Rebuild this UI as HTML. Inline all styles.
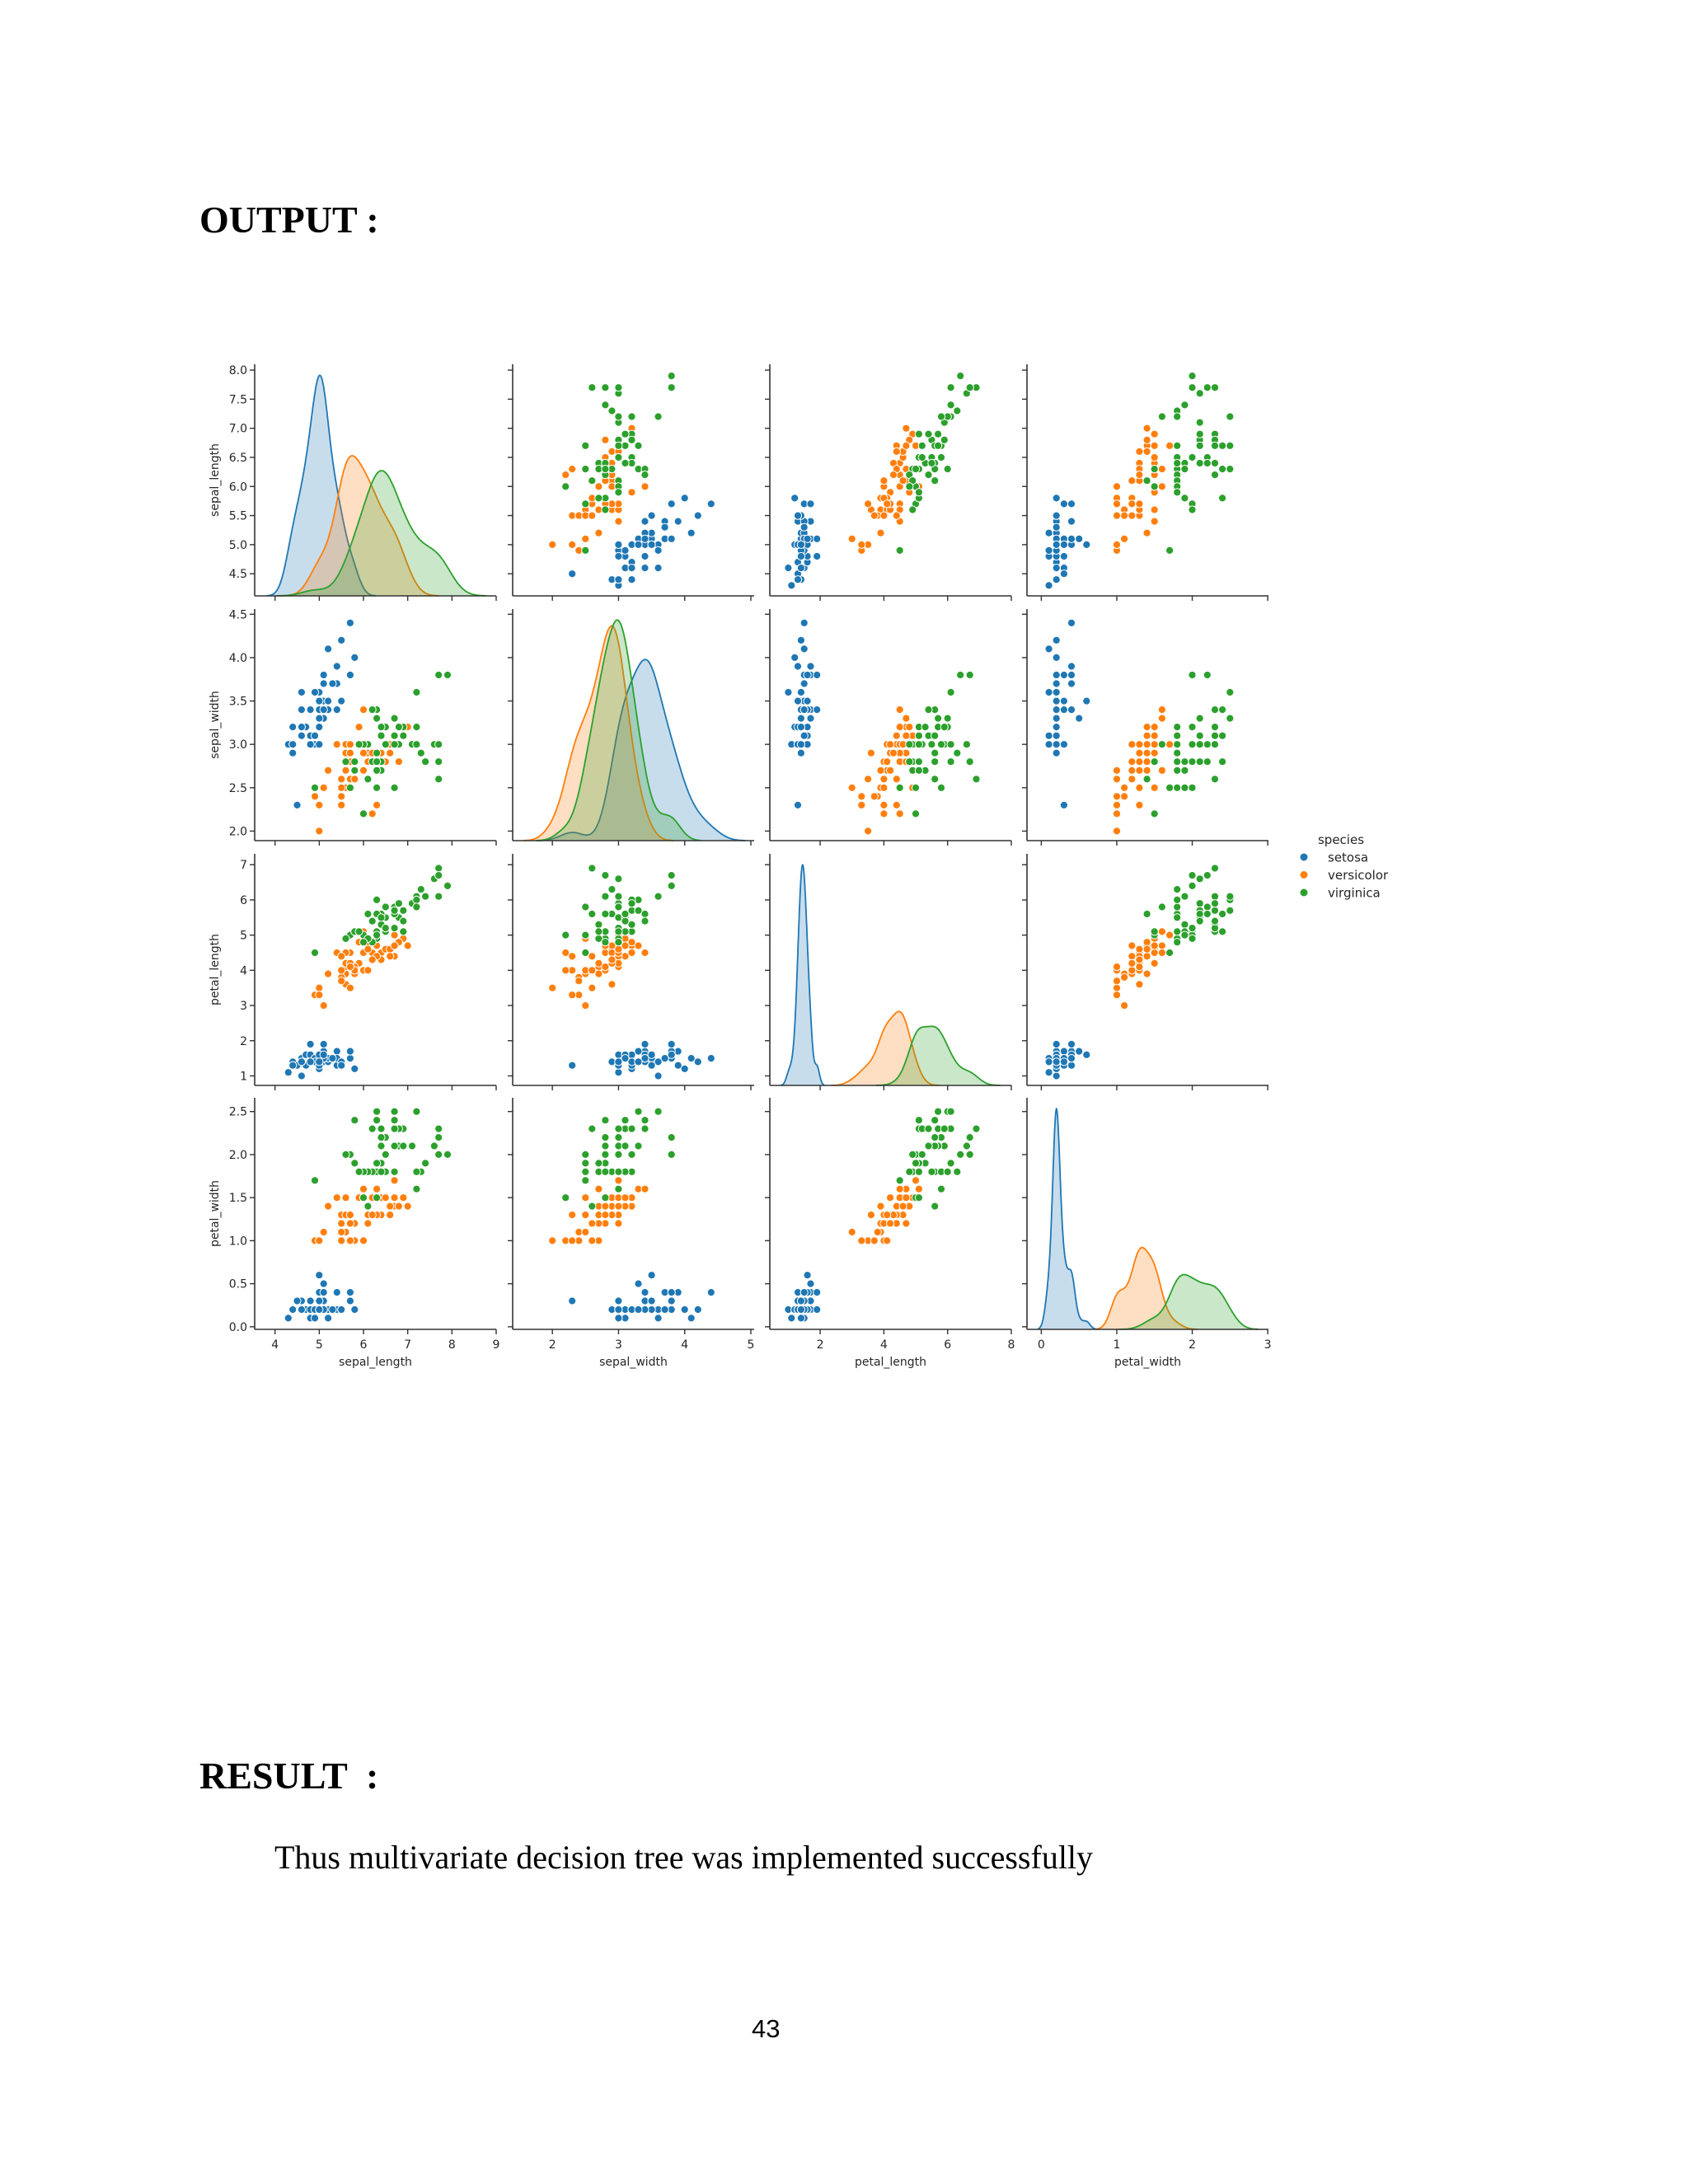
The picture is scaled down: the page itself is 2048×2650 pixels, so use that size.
<!DOCTYPE html>
<html><head><meta charset="utf-8">
<style>
html,body{margin:0;padding:0;background:#fff;}
body{width:2048px;height:2650px;position:relative;overflow:hidden;}
.h{position:absolute;font-family:"Liberation Serif",serif;font-weight:bold;font-size:46px;color:#000;white-space:pre;}
.p{position:absolute;font-family:"Liberation Serif",serif;font-size:40px;color:#000;white-space:pre;}
svg text{font-family:"DejaVu Sans","Liberation Sans",sans-serif;fill:#262626;}
</style></head>
<body>
<div class="h" style="left:242px;top:240px;">OUTPUT :</div>
<svg id="chart" width="2048" height="2650" style="position:absolute;left:0;top:0;"></svg>
<div class="h" style="left:242px;top:2128px;">RESULT  :</div>
<div class="p" style="left:333px;top:2230px;">Thus multivariate decision tree was implemented successfully</div>
<div class="p" style="left:912px;top:2444px;font-family:'Liberation Sans',sans-serif;font-size:31px;">43</div>
<script>
const setosaRows="5.1,3.5,1.4,0.2;4.9,3.0,1.4,0.2;4.7,3.2,1.3,0.2;4.6,3.1,1.5,0.2;5.0,3.6,1.4,0.2;5.4,3.9,1.7,0.4;4.6,3.4,1.4,0.3;5.0,3.4,1.5,0.2;4.4,2.9,1.4,0.2;4.9,3.1,1.5,0.1;5.4,3.7,1.5,0.2;4.8,3.4,1.6,0.2;4.8,3.0,1.4,0.1;4.3,3.0,1.1,0.1;5.8,4.0,1.2,0.2;5.7,4.4,1.5,0.4;5.4,3.9,1.3,0.4;5.1,3.5,1.4,0.3;5.7,3.8,1.7,0.3;5.1,3.8,1.5,0.3;5.4,3.4,1.7,0.2;5.1,3.7,1.5,0.4;4.6,3.6,1.0,0.2;5.1,3.3,1.7,0.5;4.8,3.4,1.9,0.2;5.0,3.0,1.6,0.2;5.0,3.4,1.6,0.4;5.2,3.5,1.5,0.2;5.2,3.4,1.4,0.2;4.7,3.2,1.6,0.2;4.8,3.1,1.6,0.2;5.4,3.4,1.5,0.4;5.2,4.1,1.5,0.1;5.5,4.2,1.4,0.2;4.9,3.1,1.5,0.2;5.0,3.2,1.2,0.2;5.5,3.5,1.3,0.2;4.9,3.6,1.4,0.1;4.4,3.0,1.3,0.2;5.1,3.4,1.5,0.2;5.0,3.5,1.3,0.3;4.5,2.3,1.3,0.3;4.4,3.2,1.3,0.2;5.0,3.5,1.6,0.6;5.1,3.8,1.9,0.4;4.8,3.0,1.4,0.3;5.1,3.8,1.6,0.2;4.6,3.2,1.4,0.2;5.3,3.7,1.5,0.2;5.0,3.3,1.4,0.2";
const versicolorRows="7.0,3.2,4.7,1.4;6.4,3.2,4.5,1.5;6.9,3.1,4.9,1.5;5.5,2.3,4.0,1.3;6.5,2.8,4.6,1.5;5.7,2.8,4.5,1.3;6.3,3.3,4.7,1.6;4.9,2.4,3.3,1.0;6.6,2.9,4.6,1.3;5.2,2.7,3.9,1.4;5.0,2.0,3.5,1.0;5.9,3.0,4.2,1.5;6.0,2.2,4.0,1.0;6.1,2.9,4.7,1.4;5.6,2.9,3.6,1.3;6.7,3.1,4.4,1.4;5.6,3.0,4.5,1.5;5.8,2.7,4.1,1.0;6.2,2.2,4.5,1.5;5.6,2.5,3.9,1.1;5.9,3.2,4.8,1.8;6.1,2.8,4.0,1.3;6.3,2.5,4.9,1.5;6.1,2.8,4.7,1.2;6.4,2.9,4.3,1.3;6.6,3.0,4.4,1.4;6.8,2.8,4.8,1.4;6.7,3.0,5.0,1.7;6.0,2.9,4.5,1.5;5.7,2.6,3.5,1.0;5.5,2.4,3.8,1.1;5.5,2.4,3.7,1.0;5.8,2.7,3.9,1.2;6.0,2.7,5.1,1.6;5.4,3.0,4.5,1.5;6.0,3.4,4.5,1.6;6.7,3.1,4.7,1.5;6.3,2.3,4.4,1.3;5.6,3.0,4.1,1.3;5.5,2.5,4.0,1.3;5.5,2.6,4.4,1.2;6.1,3.0,4.6,1.4;5.8,2.6,4.0,1.2;5.0,2.3,3.3,1.0;5.6,2.7,4.2,1.3;5.7,3.0,4.2,1.2;5.7,2.9,4.2,1.3;6.2,2.9,4.3,1.3;5.1,2.5,3.0,1.1;5.7,2.8,4.1,1.3";
const virginicaRows="6.3,3.3,6.0,2.5;5.8,2.7,5.1,1.9;7.1,3.0,5.9,2.1;6.3,2.9,5.6,1.8;6.5,3.0,5.8,2.2;7.6,3.0,6.6,2.1;4.9,2.5,4.5,1.7;7.3,2.9,6.3,1.8;6.7,2.5,5.8,1.8;7.2,3.6,6.1,2.5;6.5,3.2,5.1,2.0;6.4,2.7,5.3,1.9;6.8,3.0,5.5,2.1;5.7,2.5,5.0,2.0;5.8,2.8,5.1,2.4;6.4,3.2,5.3,2.3;6.5,3.0,5.5,1.8;7.7,3.8,6.7,2.2;7.7,2.6,6.9,2.3;6.0,2.2,5.0,1.5;6.9,3.2,5.7,2.3;5.6,2.8,4.9,2.0;7.7,2.8,6.7,2.0;6.3,2.7,4.9,1.8;6.7,3.3,5.7,2.1;7.2,3.2,6.0,1.8;6.2,2.8,4.8,1.8;6.1,3.0,4.9,1.8;6.4,2.8,5.6,2.1;7.2,3.0,5.8,1.6;7.4,2.8,6.1,1.9;7.9,3.8,6.4,2.0;6.4,2.8,5.6,2.2;6.3,2.8,5.1,1.5;6.1,2.6,5.6,1.4;7.7,3.0,6.1,2.3;6.3,3.4,5.6,2.4;6.4,3.1,5.5,1.8;6.0,3.0,4.8,1.8;6.9,3.1,5.4,2.1;6.7,3.1,5.6,2.4;6.9,3.1,5.1,2.3;5.8,2.7,5.1,1.9;6.8,3.2,5.9,2.3;6.7,3.3,5.7,2.5;6.7,3.0,5.2,2.3;6.3,2.5,5.0,1.9;6.5,3.0,5.2,2.0;6.2,3.4,5.4,2.3;5.9,3.0,5.1,1.8";
const speciesNames=["setosa","versicolor","virginica"];
const speciesColors=["#1f77b4","#ff7f0e","#2ca02c"];
const varNames=["sepal_length","sepal_width","petal_length","petal_width"];
const xLimits=[[3.54,9.0],[1.40,5.05],[0.42,8.0],[-0.19,3.01]];
const yLimits=[[4.12,8.1],[1.89,4.56],[0.73,7.31],[-0.03,2.66]];
const xTicks=[[4,5,6,7,8,9],[2,3,4,5],[2,4,6,8],[0,1,2,3]];
const yTicks=[[4.5,5.0,5.5,6.0,6.5,7.0,7.5,8.0],[2.0,2.5,3.0,3.5,4.0,4.5],[1,2,3,4,5,6,7],[0.0,0.5,1.0,1.5,2.0,2.5]];
const yTickLabels=[["4.5","5.0","5.5","6.0","6.5","7.0","7.5","8.0"],["2.0","2.5","3.0","3.5","4.0","4.5"],["1","2","3","4","5","6","7"],["0.0","0.5","1.0","1.5","2.0","2.5"]];

const rows=[];
[setosaRows,versicolorRows,virginicaRows].forEach((s,k)=>s.split(";").forEach(r=>{const v=r.split(",").map(Number);v.push(k);rows.push(v);}));

const NS="http://www.w3.org/2000/svg";
const svg=document.getElementById("chart");
function mk(tag,attrs,parent){const e=document.createElementNS(NS,tag);for(const k in attrs)e.setAttribute(k,attrs[k]);(parent||svg).appendChild(e);return e;}
const colX=[309,622,934,1246],colW=293,rowY=[442,739,1036,1332],rowH=281;
function sx(c,v){const [a,b]=xLimits[c];return colX[c]+(v-a)/(b-a)*colW;}
function sy(r,v){const [a,b]=yLimits[r];return rowY[r]+rowH-(v-a)/(b-a)*rowH;}

function kde(data,bw,x){let s=0;for(const d of data){const z=(x-d)/bw;s+=Math.exp(-0.5*z*z);}return s/(bw*Math.sqrt(2*Math.PI));}

for(let r=0;r<4;r++)for(let c=0;c<4;c++){
  const g=mk("g",{});
  
  
  if(r===c){
    const curves=[];let mx=0;
    for(let k=0;k<3;k++){
      const d=rows.filter(v=>v[4]===k).map(v=>v[c]);
      const n=d.length,m=d.reduce((a,b)=>a+b,0)/n;
      const sd=Math.sqrt(d.reduce((a,b)=>a+(b-m)*(b-m),0)/(n-1));
      const bw=sd*Math.pow(n,-0.2);
      const lo=Math.min(...d)-3*bw,hi=Math.max(...d)+3*bw;
      const pts=[];
      for(let i=0;i<=200;i++){const x=lo+(hi-lo)*i/200;const y=kde(d,bw,x)*n/rows.length;pts.push([x,y]);if(y>mx)mx=y;}
      curves.push(pts);
    }
    const top=mx*1.05,base=rowY[r]+rowH;
    curves.forEach((pts,k)=>{
      const line=pts.map(p=>sx(c,p[0]).toFixed(1)+","+(base-p[1]/top*rowH).toFixed(1)).join(" ");
      const area=mk("polygon",{points:sx(c,pts[0][0]).toFixed(1)+","+base+" "+line+" "+sx(c,pts[pts.length-1][0]).toFixed(1)+","+base,fill:speciesColors[k],"fill-opacity":0.25,stroke:"none"},g);
      
      
      const pl=mk("polyline",{points:line,fill:"none",stroke:speciesColors[k],"stroke-width":1.8},g);
      
      
    });
  } else {
    rows.forEach(v=>{
      const dot=mk("circle",{cx:sx(c,v[c]).toFixed(1),cy:sy(r,v[r]).toFixed(1),r:4.6,fill:speciesColors[v[4]],stroke:"#fff","stroke-width":1},g);
      
      
    });
  }
  const x0=colX[c],y1=rowY[r]+rowH;
  mk("line",{x1:x0,y1:rowY[r],x2:x0,y2:y1,stroke:"#333","stroke-width":1.6},g);
  mk("line",{x1:x0,y1:y1,x2:x0+colW,y2:y1,stroke:"#333","stroke-width":1.6},g);
  yTicks[r].forEach((t,i)=>{
    const y=sy(r,t);
    mk("line",{x1:x0-6,y1:y,x2:x0,y2:y,stroke:"#333","stroke-width":1.4},g);
    if(c===0){const tx=mk("text",{x:x0-9,y:y+5,"text-anchor":"end","font-size":14},g);tx.textContent=yTickLabels[r][i];
      
      }
  });
  xTicks[c].forEach(t=>{
    const x=sx(c,t);
    mk("line",{x1:x,y1:y1,x2:x,y2:y1+6,stroke:"#333","stroke-width":1.4},g);
    if(r===3){const tx=mk("text",{x:x,y:y1+23,"text-anchor":"middle","font-size":14},g);tx.textContent=String(t);
      
      }
  });
  if(c===0){const lb=mk("text",{x:0,y:0,"text-anchor":"middle","font-size":14,transform:"translate(265,"+(rowY[r]+rowH/2)+") rotate(-90)"},g);lb.textContent=varNames[r];
    
    }
  if(r===3){const lb=mk("text",{x:colX[c]+colW/2,y:y1+44,"text-anchor":"middle","font-size":14},g);lb.textContent=varNames[c];
    
    }
}
const lg=mk("g",{});


const lt=mk("text",{x:1627,y:1024,"text-anchor":"middle","font-size":15},lg);lt.textContent="species";


speciesNames.forEach((n,k)=>{
  const y=1040+k*21.5;
  const e=mk("g",{},lg);
  
  
  mk("circle",{cx:1582,cy:y,r:5,fill:speciesColors[k],stroke:"#fff","stroke-width":1},e);
  const t=mk("text",{x:1611,y:y+5.5,"font-size":15},e);t.textContent=n;
});
</script>
</body></html>
